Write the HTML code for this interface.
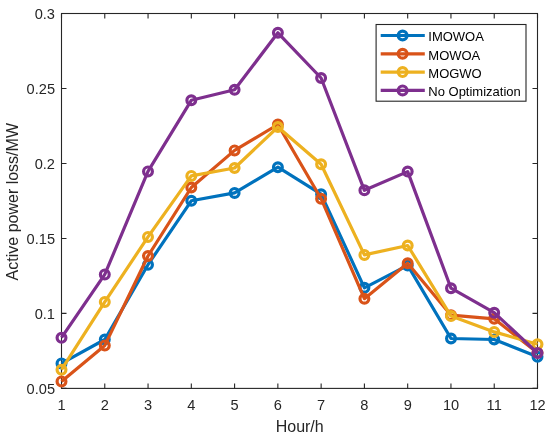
<!DOCTYPE html>
<html><head><meta charset="utf-8"><title>Active power loss</title>
<style>
html,body{margin:0;padding:0;background:#fff;}
body{width:550px;height:437px;overflow:hidden;}
svg{display:block;}
text{font-family:"Liberation Sans",Arial,Helvetica,sans-serif;}
.tick{font-size:14.6px;fill:#262626;}
.lab{font-size:16px;fill:#262626;}
.leg{font-size:13.0px;fill:#000;}
</style></head><body>
<svg width="550" height="437" viewBox="0 0 550 437">
<rect x="0" y="0" width="550" height="437" fill="#ffffff"/>
<g stroke="#262626" stroke-width="1.1" fill="none">
<rect x="61.5" y="13.5" width="476.0" height="374.9"/>
<path d="M61.50,388.4v-5M61.50,13.5v5M104.77,388.4v-5M104.77,13.5v5M148.05,388.4v-5M148.05,13.5v5M191.32,388.4v-5M191.32,13.5v5M234.59,388.4v-5M234.59,13.5v5M277.86,388.4v-5M277.86,13.5v5M321.14,388.4v-5M321.14,13.5v5M364.41,388.4v-5M364.41,13.5v5M407.68,388.4v-5M407.68,13.5v5M450.95,388.4v-5M450.95,13.5v5M494.23,388.4v-5M494.23,13.5v5M537.50,388.4v-5M537.50,13.5v5M61.5,388.40h5M537.5,388.40h-5M61.5,313.42h5M537.5,313.42h-5M61.5,238.44h5M537.5,238.44h-5M61.5,163.46h5M537.5,163.46h-5M61.5,88.48h5M537.5,88.48h-5M61.5,13.50h5M537.5,13.50h-5"/>
</g>
<clipPath id="c"><rect x="53.5" y="5.5" width="492.0" height="390.9"/></clipPath>
<g clip-path="url(#c)">
<g stroke="#0072BD" stroke-width="3.2" fill="none" stroke-linejoin="round">
<polyline points="61.5,363.4 104.8,339.5 148.0,264.7 191.3,200.8 234.6,192.9 277.9,167.2 321.1,194.2 364.4,287.8 407.7,265.4 451.0,338.5 494.2,339.5 537.5,356.8"/>
<circle cx="61.5" cy="363.4" r="4.4"/>
<circle cx="104.8" cy="339.5" r="4.4"/>
<circle cx="148.0" cy="264.7" r="4.4"/>
<circle cx="191.3" cy="200.8" r="4.4"/>
<circle cx="234.6" cy="192.9" r="4.4"/>
<circle cx="277.9" cy="167.2" r="4.4"/>
<circle cx="321.1" cy="194.2" r="4.4"/>
<circle cx="364.4" cy="287.8" r="4.4"/>
<circle cx="407.7" cy="265.4" r="4.4"/>
<circle cx="451.0" cy="338.5" r="4.4"/>
<circle cx="494.2" cy="339.5" r="4.4"/>
<circle cx="537.5" cy="356.8" r="4.4"/>
</g>
<g stroke="#D95319" stroke-width="3.2" fill="none" stroke-linejoin="round">
<polyline points="61.5,381.4 104.8,345.4 148.0,256.0 191.3,187.5 234.6,150.4 277.9,124.5 321.1,198.7 364.4,298.7 407.7,263.3 451.0,315.2 494.2,318.8 537.5,352.7"/>
<circle cx="61.5" cy="381.4" r="4.4"/>
<circle cx="104.8" cy="345.4" r="4.4"/>
<circle cx="148.0" cy="256.0" r="4.4"/>
<circle cx="191.3" cy="187.5" r="4.4"/>
<circle cx="234.6" cy="150.4" r="4.4"/>
<circle cx="277.9" cy="124.5" r="4.4"/>
<circle cx="321.1" cy="198.7" r="4.4"/>
<circle cx="364.4" cy="298.7" r="4.4"/>
<circle cx="407.7" cy="263.3" r="4.4"/>
<circle cx="451.0" cy="315.2" r="4.4"/>
<circle cx="494.2" cy="318.8" r="4.4"/>
<circle cx="537.5" cy="352.7" r="4.4"/>
</g>
<g stroke="#EDB120" stroke-width="3.2" fill="none" stroke-linejoin="round">
<polyline points="61.5,369.7 104.8,301.9 148.0,236.9 191.3,175.9 234.6,168.0 277.9,127.0 321.1,164.2 364.4,254.9 407.7,245.5 451.0,316.1 494.2,331.9 537.5,344.3"/>
<circle cx="61.5" cy="369.7" r="4.4"/>
<circle cx="104.8" cy="301.9" r="4.4"/>
<circle cx="148.0" cy="236.9" r="4.4"/>
<circle cx="191.3" cy="175.9" r="4.4"/>
<circle cx="234.6" cy="168.0" r="4.4"/>
<circle cx="277.9" cy="127.0" r="4.4"/>
<circle cx="321.1" cy="164.2" r="4.4"/>
<circle cx="364.4" cy="254.9" r="4.4"/>
<circle cx="407.7" cy="245.5" r="4.4"/>
<circle cx="451.0" cy="316.1" r="4.4"/>
<circle cx="494.2" cy="331.9" r="4.4"/>
<circle cx="537.5" cy="344.3" r="4.4"/>
</g>
<g stroke="#7E2F8E" stroke-width="3.2" fill="none" stroke-linejoin="round">
<polyline points="61.5,337.7 104.8,274.4 148.0,171.4 191.3,100.3 234.6,89.8 277.9,32.8 321.1,78.0 364.4,190.3 407.7,171.6 451.0,288.2 494.2,312.7 537.5,353.0"/>
<circle cx="61.5" cy="337.7" r="4.4"/>
<circle cx="104.8" cy="274.4" r="4.4"/>
<circle cx="148.0" cy="171.4" r="4.4"/>
<circle cx="191.3" cy="100.3" r="4.4"/>
<circle cx="234.6" cy="89.8" r="4.4"/>
<circle cx="277.9" cy="32.8" r="4.4"/>
<circle cx="321.1" cy="78.0" r="4.4"/>
<circle cx="364.4" cy="190.3" r="4.4"/>
<circle cx="407.7" cy="171.6" r="4.4"/>
<circle cx="451.0" cy="288.2" r="4.4"/>
<circle cx="494.2" cy="312.7" r="4.4"/>
<circle cx="537.5" cy="353.0" r="4.4"/>
</g>
</g>
<g class="tick" text-anchor="middle">
<text x="61.5" y="409.9">1</text>
<text x="104.8" y="409.9">2</text>
<text x="148.0" y="409.9">3</text>
<text x="191.3" y="409.9">4</text>
<text x="234.6" y="409.9">5</text>
<text x="277.9" y="409.9">6</text>
<text x="321.1" y="409.9">7</text>
<text x="364.4" y="409.9">8</text>
<text x="407.7" y="409.9">9</text>
<text x="451.0" y="409.9">10</text>
<text x="494.2" y="409.9">11</text>
<text x="537.5" y="409.9">12</text>
</g>
<g class="tick" text-anchor="end">
<text x="55.0" y="393.9">0.05</text>
<text x="55.0" y="318.9">0.1</text>
<text x="55.0" y="243.9">0.15</text>
<text x="55.0" y="169.0">0.2</text>
<text x="55.0" y="94.0">0.25</text>
<text x="55.0" y="19.0">0.3</text>
</g>
<text class="lab" text-anchor="middle" x="299.7" y="431.5">Hour/h</text>
<text class="lab" text-anchor="middle" transform="translate(18.1,201.7) rotate(-90)">Active power loss/MW</text>
<rect x="376.1" y="24.5" width="149.9" height="76.7" fill="#fff" stroke="#262626" stroke-width="1.1"/>
<g stroke="#0072BD" stroke-width="3.2" fill="none"><path d="M380.7,35.5H424.8"/><circle cx="402.6" cy="35.5" r="4.4"/></g>
<text class="leg" x="428.3" y="41.3">IMOWOA</text>
<g stroke="#D95319" stroke-width="3.2" fill="none"><path d="M380.7,53.8H424.8"/><circle cx="402.6" cy="53.8" r="4.4"/></g>
<text class="leg" x="428.3" y="59.6">MOWOA</text>
<g stroke="#EDB120" stroke-width="3.2" fill="none"><path d="M380.7,72.1H424.8"/><circle cx="402.6" cy="72.1" r="4.4"/></g>
<text class="leg" x="428.3" y="77.9">MOGWO</text>
<g stroke="#7E2F8E" stroke-width="3.2" fill="none"><path d="M380.7,90.4H424.8"/><circle cx="402.6" cy="90.4" r="4.4"/></g>
<text class="leg" x="428.3" y="96.2">No Optimization</text>
</svg></body></html>
